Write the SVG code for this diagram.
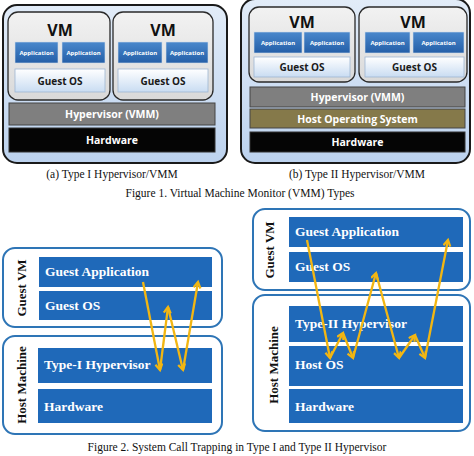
<svg xmlns="http://www.w3.org/2000/svg" width="474" height="456" viewBox="0 0 474 456">
<defs>
<linearGradient id="gOuter" x1="0" y1="0" x2="0" y2="1"><stop offset="0" stop-color="#e2ecf8"/><stop offset="1" stop-color="#bcd2ee"/></linearGradient>
<linearGradient id="gVM" x1="0" y1="0" x2="0" y2="1"><stop offset="0" stop-color="#f2f2f2"/><stop offset="1" stop-color="#d9d9d9"/></linearGradient>
<linearGradient id="gApp" x1="0" y1="0" x2="0" y2="1"><stop offset="0" stop-color="#4a88cc"/><stop offset="1" stop-color="#245fa8"/></linearGradient>
<linearGradient id="gOS" x1="0" y1="0" x2="0" y2="1"><stop offset="0" stop-color="#ffffff"/><stop offset="1" stop-color="#c9dcf2"/></linearGradient>
<marker id="arr" markerWidth="10" markerHeight="10" refX="7" refY="4" orient="auto" markerUnits="userSpaceOnUse">
<path d="M1,0.5 L7,4 L1,7.5" fill="none" stroke="#f2b612" stroke-width="2.2" stroke-linejoin="miter"/>
</marker>
</defs>
<style>
.outer{fill:url(#gOuter);stroke:#1a1a1a;stroke-width:2}
.vm{fill:url(#gVM);stroke:#2a2a2a;stroke-width:1.3}
.app{fill:url(#gApp);stroke:#d0dcea;stroke-width:0.6}
.os{fill:url(#gOS);stroke:#9fb6d3;stroke-width:0.8}
.hyp{fill:#7f7f7f;stroke:#444;stroke-width:1}
.host{fill:#85794a;stroke:#444;stroke-width:1}
.hw{fill:#050505;stroke:#333;stroke-width:1}
.s{font-family:"Open Sans","Liberation Sans",sans-serif;font-weight:bold;text-anchor:middle}
.vmt{font-size:16px;fill:#111}
.appt{font-size:6px;fill:#ffffff}
.ost{font-size:10px;fill:#1a1a1a}
.bart{font-size:10.5px;fill:#ffffff}
.cap{font-family:"Liberation Serif",serif;font-size:11.5px;fill:#111;text-anchor:middle}
.box2{fill:#ffffff;stroke:#2e75b6;stroke-width:2}
.bar{fill:#1f69b9}
.bt{font-family:"Liberation Serif",serif;font-weight:bold;font-size:13.5px;fill:#ffffff}
.lt{font-family:"Liberation Serif",serif;font-weight:bold;font-size:13px;fill:#111;text-anchor:middle}
.arw{fill:none;stroke:#f2b612;stroke-width:2.3;marker-end:url(#arr)}
</style>

<g id="type1">
<rect class="outer" x="3" y="5" width="224" height="158" rx="14"/>
<g id="t1-vm1">
<rect class="vm" x="8" y="12" width="102" height="88" rx="10"/>
<text class="s vmt" x="60" y="36">VM</text>
<rect class="app" x="15" y="42" width="43" height="21"/>
<text class="s appt" x="36.5" y="55">Application</text>
<rect class="app" x="62" y="42" width="43" height="21"/>
<text class="s appt" x="83.5" y="55">Application</text>
<rect class="os" x="15" y="69" width="90" height="23"/>
<text class="s ost" x="60" y="84.5">Guest OS</text>
</g>
<g id="t1-vm2">
<rect class="vm" x="113" y="12" width="100" height="88" rx="10"/>
<text class="s vmt" x="163" y="36">VM</text>
<rect class="app" x="118" y="42" width="44" height="21"/>
<text class="s appt" x="140" y="55">Application</text>
<rect class="app" x="166" y="42" width="42" height="21"/>
<text class="s appt" x="187" y="55">Application</text>
<rect class="os" x="118" y="69" width="90" height="23"/>
<text class="s ost" x="163" y="84.5">Guest OS</text>
</g>
<g id="t1-hyp">
<rect class="hyp" x="9" y="103" width="206" height="22"/>
<text class="s bart" x="112" y="118">Hypervisor (VMM)</text>
</g>
<g id="t1-hw">
<rect class="hw" x="9" y="128" width="206" height="24"/>
<text class="s bart" x="112" y="144">Hardware</text>
</g>
</g>

<g id="type2">
<rect class="outer" x="241" y="-1" width="229" height="164" rx="14"/>
<g id="t2-vm1">
<rect class="vm" x="249" y="7" width="106" height="75" rx="10"/>
<text class="s vmt" x="302" y="28">VM</text>
<rect class="app" x="254" y="32" width="48" height="21"/>
<text class="s appt" x="278" y="45">Application</text>
<rect class="app" x="304" y="32" width="46" height="21"/>
<text class="s appt" x="327" y="45">Application</text>
<rect class="os" x="254" y="57" width="96" height="20"/>
<text class="s ost" x="302" y="71">Guest OS</text>
</g>
<g id="t2-vm2">
<rect class="vm" x="359" y="7" width="108" height="75" rx="10"/>
<text class="s vmt" x="413" y="28">VM</text>
<rect class="app" x="365" y="32" width="45" height="21"/>
<text class="s appt" x="387.5" y="45">Application</text>
<rect class="app" x="413" y="32" width="51" height="21"/>
<text class="s appt" x="438.5" y="45">Application</text>
<rect class="os" x="365" y="57" width="99" height="20"/>
<text class="s ost" x="414.5" y="71">Guest OS</text>
</g>
<g id="t2-hyp">
<rect class="hyp" x="250" y="87" width="215" height="20"/>
<text class="s bart" x="357.5" y="101">Hypervisor (VMM)</text>
</g>
<g id="t2-host">
<rect class="host" x="250" y="109" width="215" height="19"/>
<text class="s bart" x="357.5" y="122.5" fill="#f4f0d8">Host Operating System</text>
</g>
<g id="t2-hw">
<rect class="hw" x="250" y="132" width="215" height="20"/>
<text class="s bart" x="357.5" y="146">Hardware</text>
</g>
</g>

<g id="captions1">
<text class="cap" x="112" y="178">(a) Type I Hypervisor/VMM</text>
<text class="cap" x="357" y="178">(b) Type II Hypervisor/VMM</text>
<text class="cap" x="240" y="197" font-size="11">Figure 1. Virtual Machine Monitor (VMM) Types</text>
</g>

<g id="fig2-left">
<g id="l-guestvm">
<rect class="box2" x="3" y="248" width="219" height="79" rx="12"/>
<text class="lt" transform="translate(26,288) rotate(-90)">Guest VM</text>
<rect class="bar" x="39" y="257" width="173" height="30"/>
<text class="bt" x="45" y="276">Guest Application</text>
<rect class="bar" x="39" y="291" width="173" height="29"/>
<text class="bt" x="45" y="310">Guest OS</text>
</g>
<g id="l-host">
<rect class="box2" x="3" y="336" width="219" height="98" rx="12"/>
<text class="lt" transform="translate(26,385) rotate(-90)">Host Machine</text>
<rect class="bar" x="38" y="348" width="174" height="35"/>
<text class="bt" x="44" y="369">Type-I Hypervisor</text>
<rect class="bar" x="38" y="389" width="174" height="34"/>
<text class="bt" x="44" y="411">Hardware</text>
</g>
</g>

<g id="fig2-right">
<g id="r-guestvm">
<rect class="box2" x="253" y="209" width="217" height="81" rx="12"/>
<text class="lt" transform="translate(274,250) rotate(-90)">Guest VM</text>
<rect class="bar" x="289" y="217" width="174" height="30"/>
<text class="bt" x="295" y="236">Guest Application</text>
<rect class="bar" x="289" y="252" width="174" height="30"/>
<text class="bt" x="295" y="271">Guest OS</text>
</g>
<g id="r-host">
<rect class="box2" x="253" y="295" width="217" height="136" rx="12"/>
<text class="lt" transform="translate(278,365) rotate(-90)">Host Machine</text>
<rect class="bar" x="289" y="306" width="174" height="36"/>
<text class="bt" x="295" y="328">Type-II Hypervisor</text>
<rect class="bar" x="289" y="346" width="174" height="40"/>
<text class="bt" x="295" y="369">Host OS</text>
<rect class="bar" x="289" y="389" width="174" height="34"/>
<text class="bt" x="295" y="411">Hardware</text>
</g>
</g>

<g id="connectors">
<line class="arw" x1="143" y1="282" x2="160" y2="370"/>
<line class="arw" x1="160" y1="370" x2="168" y2="307"/>
<line class="arw" x1="168" y1="307" x2="183" y2="370"/>
<line class="arw" x1="183" y1="370" x2="198" y2="282"/>
<line class="arw" x1="307" y1="240" x2="330" y2="358"/>
<line class="arw" x1="330" y1="358" x2="343" y2="333"/>
<line class="arw" x1="343" y1="333" x2="353" y2="358"/>
<line class="arw" x1="353" y1="358" x2="376" y2="273"/>
<line class="arw" x1="376" y1="273" x2="399" y2="358"/>
<line class="arw" x1="399" y1="358" x2="415" y2="335"/>
<line class="arw" x1="415" y1="335" x2="425" y2="358"/>
<line class="arw" x1="425" y1="358" x2="448" y2="240"/>
</g>

<text class="cap" x="237" y="451" font-size="11">Figure 2. System Call Trapping in Type I and Type II Hypervisor</text>
</svg>
